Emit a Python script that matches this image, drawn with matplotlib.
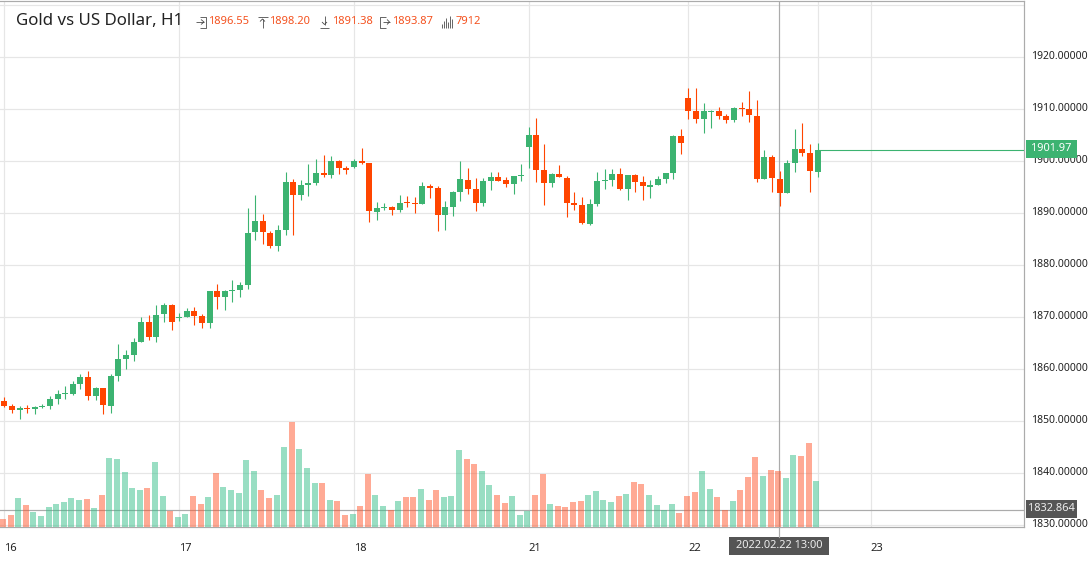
#!/usr/bin/env python3
import matplotlib
matplotlib.use("Agg")
import matplotlib.pyplot as plt
from matplotlib.patches import Rectangle
from matplotlib.transforms import ScaledTranslation

opens = [1853.9, 1852.95, 1852.2, 1852.55, 1852.35, 1852.75, 1852.95, 1854.3, 1855.25, 1855.25, 1857.2, 1858.5,
         1854.85, 1856.4, 1852.95, 1858.7, 1862, 1862.75, 1865.25, 1869.1, 1866.2, 1870.65, 1872.35, 1869.9,
         1870.05, 1871.2, 1870.25, 1868.9, 1875.05, 1873.9, 1875.05, 1875.25, 1876.2, 1886.4, 1888.5, 1886.2,
         1883.7, 1886.8, 1896, 1893.5, 1895.45, 1895.85, 1897.75, 1897.35, 1900.05, 1898.7, 1898.9, 1900.05,
         1899.7, 1890.25, 1891.05, 1891.2, 1890.65, 1892, 1892, 1891.8, 1895.25, 1894.85, 1889.7, 1891.2,
         1894.1, 1896.4, 1894.7, 1892, 1896.2, 1897, 1896.4, 1895.65, 1897.2, 1902.75, 1905.05, 1898.35,
         1895.85, 1897.55, 1896.8, 1892, 1891.6, 1887.95, 1891.8, 1896.2, 1896.4, 1897.55, 1894.7, 1897.35,
         1896, 1895.05, 1895.45, 1896.6, 1897.75, 1904.85, 1912.2, 1909.7, 1908.15, 1909.55, 1909.7, 1908.7,
         1907.95, 1910.25, 1910.05, 1908.7, 1896.6, 1900.85, 1896.55, 1893.9, 1899.7, 1902.35, 1901.6, 1897.95]
highs = [1854.7, 1853.35, 1852.95, 1853.15, 1852.95, 1853.35, 1854.85, 1856, 1856.8, 1857.75, 1859.1, 1859.7,
         1856.6, 1856.4, 1859.1, 1864.9, 1863.7, 1866, 1870.05, 1870.45, 1872.35, 1872.75, 1872.55, 1870.85,
         1871.8, 1872, 1870.65, 1875.05, 1876.4, 1875.25, 1877.2, 1876.8, 1891.05, 1893.5, 1889.85, 1886.6,
         1887.75, 1897.95, 1896.6, 1896.4, 1899.5, 1900.45, 1901.2, 1901, 1900.25, 1899.1, 1900.45, 1902.55,
         1899.7, 1892.2, 1892, 1891.4, 1893.5, 1893.35, 1893.15, 1896, 1895.65, 1895.25, 1892.35, 1894.3,
         1900.05, 1898.7, 1896.8, 1896.8, 1897.95, 1897.95, 1897, 1897.2, 1899.5, 1906.6, 1908.35, 1903.35,
         1897.75, 1899.3, 1897.2, 1894.1, 1893.15, 1892.75, 1897.95, 1898.5, 1898.5, 1898.7, 1897.35, 1897.55,
         1897.2, 1896.4, 1897.2, 1897.75, 1905.05, 1906.2, 1914.1, 1914.1, 1911.2, 1909.85, 1910.45, 1909.1,
         1910.45, 1911.4, 1913.5, 1911.8, 1902.2, 1901.2, 1898.2, 1900.25, 1906.2, 1907.4, 1903.35, 1903.5]
lows = [1852.75, 1851.6, 1850.45, 1851.6, 1851.4, 1852.55, 1852.35, 1853.35, 1854.3, 1855.05, 1856.2, 1854.1,
        1854.1, 1851.4, 1851.6, 1857.75, 1860.05, 1861.6, 1865.25, 1865.65, 1865.25, 1869.1, 1867.55, 1869.3,
        1870.05, 1868.5, 1867.95, 1867.95, 1871.6, 1871.4, 1872.95, 1873.9, 1875.45, 1884.85, 1884.1, 1883.3,
        1882.75, 1885.85, 1885.85, 1892.55, 1893.35, 1895.45, 1897, 1896.8, 1897.55, 1897.55, 1898.7, 1899.5,
        1888.35, 1888.7, 1890.65, 1889.7, 1890.25, 1891.2, 1890.05, 1891.8, 1892.95, 1886.6, 1886.8, 1889.5,
        1892.35, 1893.7, 1890.45, 1891.4, 1894.5, 1896.2, 1895.05, 1893.7, 1896.2, 1898.7, 1896, 1891.6,
        1895.05, 1897, 1889.3, 1890.65, 1887.95, 1887.75, 1891.4, 1894.7, 1895.25, 1894.5, 1892.55, 1894.1,
        1892.55, 1892.95, 1895.45, 1895.85, 1896.6, 1901.4, 1908.15, 1907.4, 1905.45, 1906.4, 1908.15, 1907.4,
        1907.55, 1908.7, 1907.55, 1896, 1896.6, 1894.1, 1891.38, 1893.9, 1897.95, 1901, 1894.1, 1897]
closes = [1852.95, 1852.25, 1852.55, 1852.4, 1852.75, 1852.95, 1854.3, 1855.25, 1855.3, 1857.2, 1858.5, 1854.85,
          1856.4, 1853.15, 1858.7, 1862, 1862.75, 1865.25, 1869.1, 1866.2, 1870.45, 1872.35, 1869.1, 1870.05,
          1871.2, 1870.25, 1868.9, 1875.05, 1873.9, 1875.05, 1875.25, 1876.2, 1886.2, 1888.5, 1886.4, 1883.7,
          1886.8, 1896, 1893.5, 1895.45, 1895.85, 1897.75, 1897.35, 1900.05, 1898.7, 1898.35, 1900.05, 1899.7,
          1890.45, 1891.05, 1891.2, 1890.65, 1892, 1891.95, 1891.8, 1895.25, 1894.85, 1889.7, 1891.2, 1894.1,
          1896.6, 1894.7, 1892, 1896.2, 1897, 1896.2, 1895.65, 1897.2, 1897.35, 1905.05, 1898.35, 1895.85,
          1897.55, 1897, 1892, 1891.6, 1888.15, 1891.8, 1896.2, 1896.4, 1897.55, 1894.7, 1897.35, 1896,
          1895.25, 1895.45, 1896.6, 1897.75, 1904.85, 1903.5, 1909.7, 1908.15, 1909.7, 1909.7, 1908.7, 1907.95,
          1910.25, 1910.05, 1908.9, 1896.6, 1900.85, 1896.8, 1893.87, 1899.7, 1902.35, 1901.6, 1898.15, 1902.1]
volumes = [1170, 1730, 4120, 3140, 2150, 1590, 2850, 3280, 3560, 4120, 3840, 3980, 2710, 4540, 9730, 9590, 7770,
           5520, 5240, 5520, 9170, 4400, 2340, 1450, 1870, 4400, 3280, 4260, 7630, 5660, 5240, 4820, 9450, 7910,
           5240, 4120, 4540, 11280, 14790, 11000, 8330, 6220, 6220, 3840, 3700, 1730, 1870, 3000, 7490, 4540,
           3000, 2430, 3700, 4260, 4260, 5380, 3840, 5240, 4260, 4400, 10860, 9590, 8890, 7910, 5940, 4540, 3420,
           4400, 1730, 2340, 4540, 7490, 3280, 3000, 2850, 3560, 3700, 4540, 5100, 3840, 3560, 4400, 4680, 6360,
           6080, 4540, 3140, 2430, 3280, 2010, 4400, 4960, 7910, 5380, 4260, 2430, 3700, 5240, 7070, 9870, 7210,
           8050, 7912, 6930, 10160, 10020, 11840, 6510]

price_ticks = [1830, 1840, 1850, 1860, 1870, 1880, 1890, 1900, 1910, 1920]
day_positions = [0, 23, 46, 69, 90, 114]
day_labels = ["16", "17", "18", "21", "22", "23"]
header_values = ["1896.55", "1898.20", "1891.38", "1893.87", "7912"]
last_price = "1901.97"
cross_price = 1832.864
cross_price_label = "1832.864"
cross_bar = 102
cross_time = "2022.02.22 13:00"

GREEN = "#3CB371"
RED = "#FF4500"
VOL_GREEN = "#35BF89"
VOL_RED = "#FF572D"
GRID = "#E6E6E6"
LINE = "#ABABAB"
DARK_BOX = "#555555"
FONT = "Noto Sans"
PX = 0.72  # one pixel in points at dpi 100

W, H = 1089, 562
fig = plt.figure(figsize=(W / 100, H / 100), dpi=100, facecolor="white")
plt.rcParams["font.family"] = FONT

ax = fig.add_axes([0, (H - 527.3) / H, 1024.3 / W, 526.3 / H])
ax.set_xlim(-0.566, 134.2)
ax.set_ylim(1829.62, 1930.83)
ax.spines["left"].set_visible(False)
for side in ["top", "right", "bottom"]:
    ax.spines[side].set_color(LINE)
    ax.spines[side].set_linewidth(1.2 * PX)

ax.set_axisbelow(True)
ax.grid(True, color=GRID, lw=1.2 * PX)
ax.set_yticks(price_ticks + [1930])

ax.axvline(107, color=GRID, lw=1.2 * PX, zorder=1)
ax.axvline(cross_bar - 0.1, color=LINE, lw=1.2 * PX, zorder=1.5)
ax.axhline(cross_price, color=LINE, lw=1.2 * PX, zorder=1.5)

bars = range(len(opens))
colors = [GREEN if c >= o else RED for o, c in zip(opens, closes)]
vol_colors = [VOL_GREEN if c >= o else VOL_RED for o, c in zip(opens, closes)]

# candles
ax.vlines(bars, lows, highs, colors=colors, lw=1.1 * PX, zorder=3)
ax.bar(bars, [max(abs(c - o), 0.22) for o, c in zip(opens, closes)],
       bottom=[min(o, c) for o, c in zip(opens, closes)],
       width=0.79, color=colors, lw=0, zorder=4)

# last price line
ax.plot([len(opens) - 1, ax.get_xlim()[1]], [closes[-1], closes[-1]], color=GREEN, lw=1.1 * PX, zorder=3)

ax_vol = ax.twinx()
ax_vol.set_ylim(0, 73900)
ax_vol.axis("off")
ax_vol.bar([b - 0.17 for b in bars], volumes, width=0.79, color=vol_colors, alpha=0.5, lw=0)

ax.yaxis.tick_right()
ax.yaxis.set_label_position("right")
ax.set_yticklabels([f"{t:.5f}" for t in price_ticks] + [""], fontsize=7.5, family=FONT, color="#222222")
ax.tick_params(axis="y", length=0, pad=4.8)
# the price labels sit a little above their gridlines
shift_up = ScaledTranslation(0, 2.5 / 100, fig.dpi_scale_trans)
for label in ax.get_yticklabels():
    label.set_transform(label.get_transform() + shift_up)
ax.set_xticks(day_positions)
ax.set_xticklabels(day_labels, fontsize=8, family=FONT, color="#222222", ha="left")
ax.tick_params(axis="x", length=0, pad=11)

# overlay in pixel coordinates for the header and price/time tags
over = fig.add_axes([0, 0, 1, 1], facecolor="none")
over.set_xlim(0, W)
over.set_ylim(H, 0)
over.axis("off")

over.plot([779.3, 779.3], [527, 537], color=LINE, lw=1.2 * PX)


def tag(x0, y0, x1, y1, color, text, text_color="white"):
    over.add_patch(Rectangle((x0, y0), x1 - x0, y1 - y0, facecolor=color, edgecolor="none"))
    over.text((x0 + x1) / 2, (y0 + y1) / 2 - 0.3, text, color=text_color, ha="center", va="center", fontsize=7.95)


tag(1026, 140, 1077, 157.7, GREEN, last_price)
tag(1026, 500, 1077, 517.7, DARK_BOX, cross_price_label, "#EEEEEE")
tag(729, 537, 829, 555, DARK_BOX, cross_time, "#EEEEEE")

over.text(16, 21, "Gold vs US Dollar, H1", fontsize=12.15, color="#222222", va="center", ha="left")

value_x = [208, 269, 332, 392, 456]
for x, value in zip(value_x, header_values):
    over.text(x, 22, value, fontsize=8, color="#F4511E", va="center", ha="left")


def seg(xs, ys):
    over.plot(xs, ys, color="#444444", lw=0.8 * PX, solid_capstyle="butt")


# open icon
seg([196, 204], [22, 22])
seg([201, 204, 201], [19.5, 22, 24.5])
seg([200, 206, 206, 200], [16.5, 16.5, 27.5, 27.5])
# high icon
seg([258, 268], [16.5, 16.5])
seg([262.5, 262.5], [19, 27.5])
seg([260, 262.5, 265], [21.5, 19, 21.5])
# low icon
seg([320, 329], [27.5, 27.5])
seg([324.5, 324.5], [16, 24.5])
seg([322, 324.5, 327], [22, 24.5, 22])
# close icon
seg([386, 379.5, 379.5, 386], [16.5, 16.5, 27.5, 27.5])
seg([383, 389.5], [22, 22])
seg([387, 389.5, 387], [19.5, 22, 24.5])
# volume icon
for x, top in zip([441.5, 443.5, 445.5, 447.5, 449.5, 451.5], [24, 21, 18, 22, 16, 19]):
    seg([x, x], [top, 27.5])

fig.savefig("out.png", dpi=100, facecolor="white")
